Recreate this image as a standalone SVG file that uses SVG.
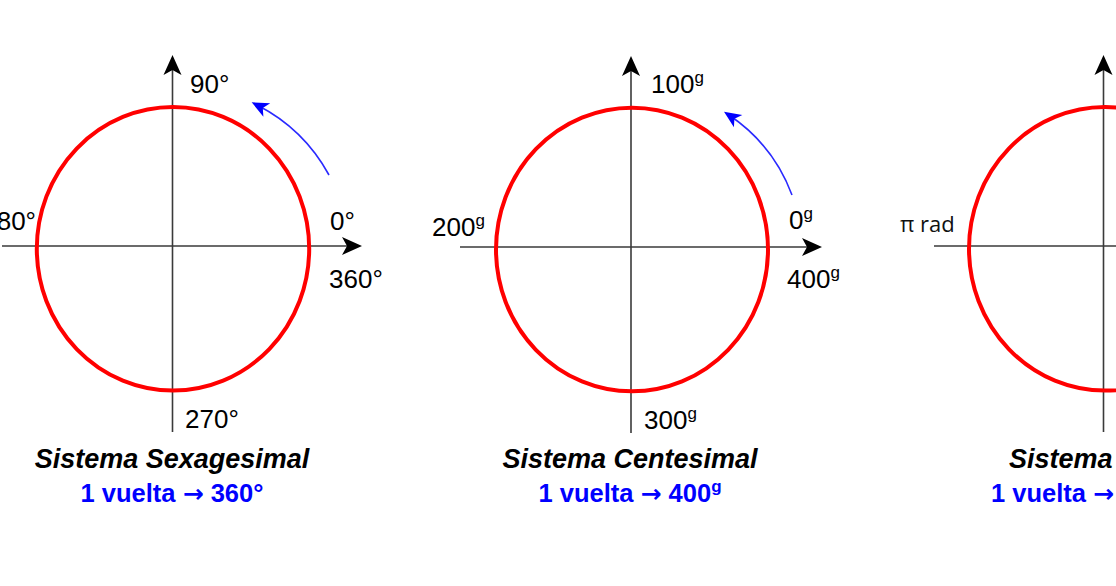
<svg xmlns="http://www.w3.org/2000/svg" width="1116" height="586" viewBox="0 0 1116 586">
<style>
  .circ { fill: none; stroke: #ff0000; stroke-width: 4; }
  .axis { fill: none; stroke: #3a3a3a; stroke-width: 1.6; }
  .turn { fill: none; stroke: #2a2aff; stroke-width: 1.6; }
  .lbl { font-family: "Liberation Sans", Arial, sans-serif; font-size: 26px; fill: #000; }
  .sup { font-size: 17px; }
  .arr { font-family: "DejaVu Sans", sans-serif; font-size: 25px; }
  .title { font-family: "Liberation Sans", Arial, sans-serif; font-size: 27px; font-weight: bold; font-style: italic; fill: #000; }
  .sub { font-family: "Liberation Sans", Arial, sans-serif; font-size: 25.5px; font-weight: bold; fill: #0000ff; }
  .rad { font-family: "Open Sans", "Noto Sans", sans-serif; font-size: 22px; fill: #111; }
</style>
<defs>
  <marker id="axisHead" markerUnits="userSpaceOnUse" markerWidth="26" markerHeight="22" viewBox="-14 -11 26 22" refX="0" refY="0" orient="auto">
    <path d="M8,0 L-12,-9 L-7,0 L-12,9 Z" fill="#000"/>
  </marker>
  <marker id="turnHead" markerUnits="userSpaceOnUse" markerWidth="22" markerHeight="18" viewBox="-12 -9 22 18" refX="0" refY="0" orient="auto">
    <path d="M6,0 L-11,-7.5 L-6.5,0 L-11,7.5 Z" fill="#0000ff"/>
  </marker>
</defs>
<rect width="1116" height="586" fill="#fff"/>

<g id="connectors">
  <line class="axis" x1="172.5" y1="432" x2="172.5" y2="63" marker-end="url(#axisHead)"/>
  <line class="axis" x1="2" y1="246" x2="354" y2="246" marker-end="url(#axisHead)"/>
  <line class="axis" x1="631" y1="433" x2="631" y2="64" marker-end="url(#axisHead)"/>
  <line class="axis" x1="460" y1="247" x2="814" y2="247" marker-end="url(#axisHead)"/>
  <line class="axis" x1="1103.5" y1="432" x2="1103.5" y2="63" marker-end="url(#axisHead)"/>
  <line class="axis" x1="934" y1="246" x2="1120" y2="246"/>
  <path class="turn" d="M329,175 A170,170 0 0 0 257,105" marker-end="url(#turnHead)"/>
  <path class="turn" d="M792,195 A167,167 0 0 0 729,115" marker-end="url(#turnHead)"/>
</g>

<g id="sexagesimal">
  <ellipse class="circ" cx="173" cy="248.8" rx="136.2" ry="141.8"/>
  <text class="lbl" x="190" y="93">90°</text>
  <text class="lbl" x="36" y="230" text-anchor="end">180°</text>
  <text class="lbl" x="330" y="230">0°</text>
  <text class="lbl" x="329" y="288">360°</text>
  <text class="lbl" x="185" y="428">270°</text>
  <text class="title" x="172" y="468" text-anchor="middle">Sistema Sexagesimal</text>
  <text class="sub" x="172" y="502" text-anchor="middle">1 vuelta <tspan class="arr">→</tspan> 360°</text>
</g>

<g id="centesimal">
  <ellipse class="circ" cx="632" cy="249.5" rx="136" ry="141.8"/>
  <text class="lbl" x="651" y="93">100<tspan class="sup" dy="-10">g</tspan></text>
  <text class="lbl" x="432" y="236">200<tspan class="sup" dy="-10">g</tspan></text>
  <text class="lbl" x="789" y="229">0<tspan class="sup" dy="-10">g</tspan></text>
  <text class="lbl" x="787" y="288">400<tspan class="sup" dy="-10">g</tspan></text>
  <text class="lbl" x="644" y="429">300<tspan class="sup" dy="-10">g</tspan></text>
  <text class="title" x="630" y="468" text-anchor="middle">Sistema Centesimal</text>
  <text class="sub" x="630" y="502" text-anchor="middle">1 vuelta <tspan class="arr">→</tspan> 400<tspan class="sup" dy="-10">g</tspan></text>
</g>

<g id="radial">
  <ellipse class="circ" cx="1105" cy="248.8" rx="136" ry="141.8"/>
  <text class="rad" x="900" y="232">π rad</text>
  <text class="title" x="1009" y="468">Sistema</text>
  <text class="sub" x="991" y="502">1 vuelta <tspan class="arr">→</tspan></text>
</g>
</svg>
